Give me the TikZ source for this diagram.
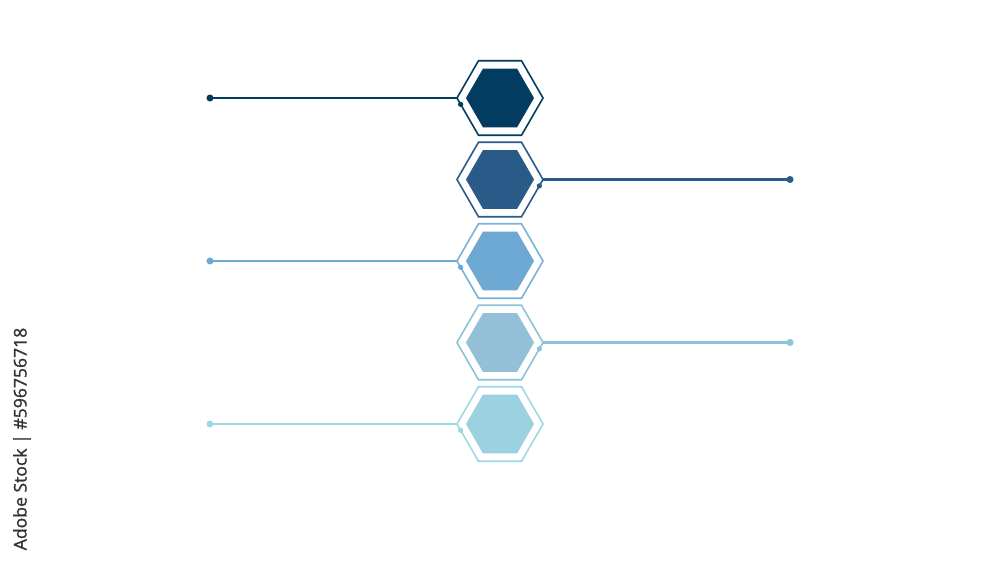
\documentclass[tikz,border=0pt]{standalone}
\usepackage{fontspec}
\newfontfamily\stockfont{Open Sans}[FakeBold=1.2]
\usetikzlibrary{shapes.geometric,calc}

\definecolor{hexA}{HTML}{023D61}
\definecolor{hexB}{HTML}{2A5A88}
\definecolor{hexC}{HTML}{6EA9D3}
\definecolor{hexD}{HTML}{93BFD7}
\definecolor{hexE}{HTML}{9AD3DF}
\definecolor{rimC}{HTML}{79B2D8}
\definecolor{rimD}{HTML}{8CC3DA}
\definecolor{rimE}{HTML}{9FD7E4}
\definecolor{stockgray}{HTML}{333333}

\tikzset{
  hexrim/.style={regular polygon, regular polygon sides=6, minimum size=0.86cm,
    inner sep=0pt, outer sep=0pt, line width=0.45pt, draw=#1},
  hexcore/.style={regular polygon, regular polygon sides=6, minimum size=0.68cm,
    inner sep=0pt, outer sep=0pt, fill=#1},
  link/.style={line width=0.6pt, draw=#1},
}

\begin{document}
\begin{tikzpicture}[x=0.01cm, y=-0.01cm]
    \fill[white](0,0)rectangle(1000,563);
    \useasboundingbox(0,0)rectangle(1000,563);

    \node[stockgray, rotate=90, font=\stockfont\fontsize{5}{6}\selectfont](stock)at(22,439){Adobe Stock | \#596756718};

    \node[hexrim=hexA](r1)at(500,98){};
    \node[hexcore=hexA](c1)at(500,98){};
    \node[hexrim=hexB](r2)at(500,179.5){};
    \node[hexcore=hexB](c2)at(500,179.5){};
    \node[hexrim=rimC](r3)at(500,261){};
    \node[hexcore=hexC](c3)at(500,261){};
    \node[hexrim=rimD](r4)at(500,342.5){};
    \node[hexcore=hexD](c4)at(500,342.5){};
    \node[hexrim=rimE](r5)at(500,424){};
    \node[hexcore=hexE](c5)at(500,424){};

    \coordinate(e1)at(210,98);
    \coordinate(e2)at(790,179.5);
    \coordinate(e3)at(210,261);
    \coordinate(e4)at(790,342.5);
    \coordinate(e5)at(210,424);

    \draw[link=hexA](r1.180)--(e1);
    \draw[link=hexB](r2.0)--(e2);
    \draw[link=hexC](r3.180)--(e3);
    \draw[link=rimD](r4.0)--(e4);
    \draw[link=rimE](r5.180)--(e5);

    \fill[hexA](e1)circle[radius=1pt];
    \fill[hexB](e2)circle[radius=1pt];
    \fill[hexC](e3)circle[radius=1pt];
    \fill[rimD](e4)circle[radius=1pt];
    \fill[rimE](e5)circle[radius=1pt];

    \fill[hexA]($(r1.180)!0.17!(r1.240)$)circle[radius=0.75pt];
    \fill[hexB]($(r2.0)!0.17!(r2.300)$)circle[radius=0.75pt];
    \fill[hexC]($(r3.180)!0.17!(r3.240)$)circle[radius=0.75pt];
    \fill[rimD]($(r4.0)!0.17!(r4.300)$)circle[radius=0.75pt];
    \fill[rimE]($(r5.180)!0.17!(r5.240)$)circle[radius=0.75pt];
\end{tikzpicture}
\end{document}
